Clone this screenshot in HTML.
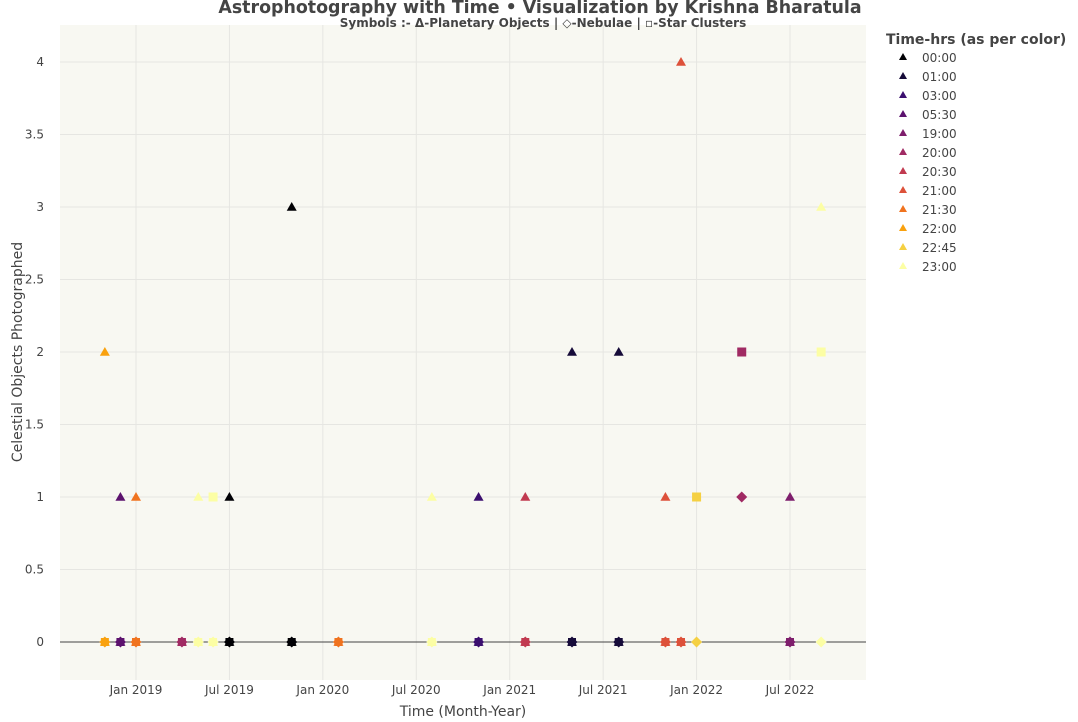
<!DOCTYPE html>
<html><head><meta charset="utf-8"><style>
body{margin:0;background:#fff;font-family:"DejaVu Sans",sans-serif;}
svg text{font-family:"DejaVu Sans","Liberation Sans",sans-serif;}
</style></head><body>
<svg id="chart" width="1078" height="718" xmlns="http://www.w3.org/2000/svg">
<rect x="0" y="0" width="1078" height="718" fill="#fff"/>
<rect x="60" y="25" width="806" height="655" fill="#f8f8f2"/>
<g id="grid"></g>
<g id="marks"></g>
<text x="540" y="13" text-anchor="middle" font-size="17.4" font-weight="bold" fill="#444">Astrophotography with Time  •  Visualization by Krishna Bharatula</text>
<text x="543" y="27" text-anchor="middle" font-size="12" font-weight="bold" fill="#444">Symbols :- Δ-Planetary Objects | ◇-Nebulae | ▫-Star Clusters</text>
<text x="463" y="716" text-anchor="middle" font-size="14" fill="#444">Time (Month-Year)</text>
<text transform="translate(22,352) rotate(-90)" text-anchor="middle" font-size="14" fill="#444">Celestial Objects Photographed</text>
<text x="886" y="44" font-size="14" font-weight="bold" fill="#444">Time-hrs (as per color)</text>
<g id="legend"></g>
</svg>
<script>
const timeLabels=["00:00","01:00","03:00","05:30","19:00","20:00","20:30","21:00","21:30","22:00","22:45","23:00"];
const timeColors=["#000004","#160b39","#3b0f6f","#5c126e","#7e1e6c","#a02a63","#c13a50","#dd513a","#f0731f","#f9a10e","#f5d042","#fcfea4"];
// months since Jan 2019
const ptMonths=[-2,-1,0,2.95,4,4.95,6,10,13,19,22,25,28,31,34,35,36,42,44,
 -2,-1,0,4,4.95,6,19,22,25,34,36,38.9,42,10,44,35,28,31,38.9,44];
const ptValues=[0,0,0,0,0,0,0,0,0,0,0,0,0,0,0,0,0,0,0,
 2,1,1,1,1,1,1,1,1,1,1,1,1,3,3,4,2,2,2,2];
const ptTime=[9,3,8,5,11,11,0,0,8,11,2,6,1,1,7,7,10,4,11,
 9,3,8,11,11,0,11,2,6,7,10,5,4,0,11,7,1,1,5,11];
const ptShape=["all","all","all","all","all","all","all","all","all","all","all","all","all","all","all","all","d","all","d",
 "t","t","t","t","s","t","t","t","t","t","s","d","t","t","t","t","t","t","s","s"];
const xTickMonths=[0,6,12,18,24,30,36,42];
const xTickLabels=["Jan 2019","Jul 2019","Jan 2020","Jul 2020","Jan 2021","Jul 2021","Jan 2022","Jul 2022"];
const yTicks=[0,0.5,1,1.5,2,2.5,3,3.5,4];

const NS="http://www.w3.org/2000/svg";
function xs(m){return 136+m*(654/42);}
function ys(v){return 642-v*145;}
function mk(tag,attrs,parent){const e=document.createElementNS(NS,tag);for(const k in attrs)e.setAttribute(k,attrs[k]);parent.appendChild(e);return e;}
const grid=document.getElementById('grid'),marks=document.getElementById('marks'),leg=document.getElementById('legend'),svg=document.getElementById('chart');
xTickMonths.forEach((m,i)=>{
 const l=mk('line',{x1:xs(m),x2:xs(m),y1:25,y2:680,stroke:"#e6e6e2","stroke-width":1},grid);
 
 
 const t=mk('text',{x:xs(m),y:694,"text-anchor":"middle","font-size":12,fill:"#444"},svg);
 t.textContent=xTickLabels[i];
 
 
});
yTicks.forEach(v=>{
 const l=mk('line',{x1:60,x2:866,y1:ys(v),y2:ys(v),stroke:v===0?"#444":"#e6e6e2","stroke-width":1},grid);
 
 
 const t=mk('text',{x:44,y:ys(v)+4,"text-anchor":"end","font-size":12,fill:"#444"},svg);
 t.textContent=String(v);
 
 
});
function tri(x,y,r,c,p){return mk('path',{d:`M${x},${y-r} L${x+r},${y+r*0.75} L${x-r},${y+r*0.75}Z`,fill:c},p);}
function sq(x,y,r,c,p){return mk('rect',{x:x-r,y:y-r,width:2*r,height:2*r,fill:c},p);}
function dia(x,y,r,c,p){return mk('path',{d:`M${x},${y-r} L${x+r},${y} L${x},${y+r} L${x-r},${y}Z`,fill:c},p);}
ptMonths.forEach((m,i)=>{
 const x=xs(m),y=ys(ptValues[i]),c=timeColors[ptTime[i]],s=ptShape[i];
 const g=mk('g',{},marks);
 
 
 if(s==="t")tri(x,y,5,c,g);
 else if(s==="s")sq(x,y,4.5,c,g);
 else if(s==="d")dia(x,y,5.5,c,g);
 else{tri(x,y,5,c,g);sq(x,y,4,c,g);dia(x,y,5.5,c,g);}
});
timeLabels.forEach((lab,i)=>{
 const y=57+i*19;
 const g=mk('g',{},leg);
 
 
 tri(903,y,4,timeColors[i],g);
 const t=mk('text',{x:922,y:y+5,"font-size":12,fill:"#444"},g);
 t.textContent=lab;
});
</script>
</body></html>
